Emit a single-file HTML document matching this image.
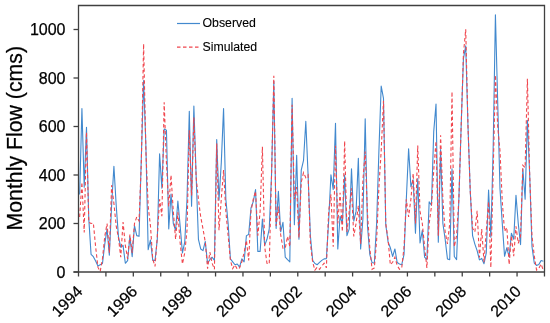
<!DOCTYPE html>
<html><head><meta charset="utf-8"><style>
html,body{margin:0;padding:0;background:#fff;}
body{width:550px;height:323px;overflow:hidden;}
svg{display:block;}
text{font-family:"Liberation Sans",Arial,sans-serif;fill:#000;stroke:#000;stroke-width:0.25px;}
</style></head><body>
<svg width="550" height="323" viewBox="0 0 550 323">
<rect x="0" y="0" width="550" height="323" fill="#fff"/>
<polyline fill="none" stroke="#4289ce" stroke-width="1.1" stroke-linejoin="round" points="79.64,194.40 81.92,108.56 84.21,187.12 86.49,127.23 88.78,218.65 91.06,254.30 93.35,256.72 95.63,261.09 97.92,265.94 100.20,264.73 102.48,263.51 104.77,244.11 107.05,228.84 109.34,255.27 111.62,205.07 113.91,166.27 116.19,205.31 118.48,236.84 120.76,247.26 123.05,245.32 125.33,263.27 127.61,260.60 129.90,236.59 132.18,256.72 134.47,225.68 136.75,235.62 139.04,236.35 141.32,158.03 143.61,80.43 145.89,145.90 148.18,249.69 150.46,239.99 152.74,260.36 155.03,260.36 157.31,239.26 159.60,153.90 161.88,188.09 164.17,128.93 166.45,130.14 168.74,228.84 171.02,194.16 173.30,223.50 175.59,230.29 177.87,200.95 180.16,225.93 182.44,252.84 184.73,242.17 187.01,199.25 189.30,111.22 191.58,206.28 193.87,106.13 196.15,176.21 198.43,239.26 200.72,248.96 203.00,250.66 205.29,241.44 207.57,263.27 209.86,259.63 212.14,257.21 214.43,260.36 216.71,139.59 218.99,200.22 221.28,162.88 223.56,108.56 225.85,199.25 228.13,223.50 230.42,258.90 232.70,261.81 234.99,264.73 237.27,264.00 239.56,267.15 241.84,258.90 244.12,261.81 246.41,235.62 248.69,234.41 250.98,207.98 253.26,201.68 255.55,189.55 257.83,251.39 260.12,251.39 262.40,219.13 264.68,245.32 266.97,239.26 269.25,228.84 271.54,175.00 273.82,81.40 276.11,228.35 278.39,191.25 280.68,231.75 282.96,222.29 285.25,257.21 287.53,259.63 289.81,261.81 292.10,98.37 294.38,224.71 296.67,155.36 298.95,239.26 301.24,170.15 303.52,160.45 305.81,121.41 308.09,175.00 310.37,235.62 312.66,260.36 314.94,263.51 317.23,264.73 319.51,262.30 321.80,260.36 324.08,258.90 326.37,258.66 328.65,221.07 330.94,174.76 333.22,189.55 335.50,123.35 337.79,248.96 340.07,216.22 342.36,223.50 344.64,175.00 346.93,235.62 349.21,228.84 351.50,168.69 353.78,221.07 356.06,211.38 358.35,158.27 360.63,248.96 362.92,218.65 365.20,118.74 367.49,225.93 369.77,254.30 372.06,262.54 374.34,263.27 376.62,223.50 378.91,150.75 381.19,86.00 383.48,98.37 385.76,224.71 388.05,241.69 390.33,247.75 392.62,256.48 394.90,248.96 397.19,262.54 399.47,264.00 401.75,264.73 404.04,254.30 406.32,199.25 408.61,148.81 410.89,186.64 413.18,179.85 415.46,233.20 417.75,178.64 420.03,242.90 422.31,230.29 424.60,257.21 426.88,259.63 429.17,201.68 431.45,205.31 433.74,131.35 436.02,103.95 438.31,242.17 440.59,149.54 442.88,223.50 445.16,239.26 447.44,258.90 449.73,259.63 452.01,168.69 454.30,256.48 456.58,259.63 458.87,199.25 461.15,126.50 463.44,58.60 465.72,45.75 468.00,126.50 470.29,191.98 472.57,235.62 474.86,244.11 477.14,250.66 479.43,259.88 481.71,258.42 484.00,263.75 486.28,252.84 488.57,190.03 490.85,237.32 493.13,150.75 495.42,14.71 497.70,102.25 499.99,188.82 502.27,223.50 504.56,256.24 506.84,247.75 509.13,256.96 511.41,233.20 513.70,239.26 515.98,195.37 518.26,223.50 520.55,244.60 522.83,168.69 525.12,199.25 527.40,120.19 529.69,175.00 531.97,246.54 534.26,263.03 536.54,265.45 538.82,264.48 541.11,260.60 543.39,261.33"/>
<polyline fill="none" stroke="#f0464e" stroke-width="1.1" stroke-dasharray="3.5,2.5" points="79.64,216.95 81.92,182.28 84.21,232.47 86.49,132.08 88.78,222.29 91.06,223.50 93.35,223.01 95.63,246.78 97.92,267.15 100.20,271.51 102.48,258.66 104.77,236.35 107.05,223.50 109.34,252.84 111.62,185.19 113.91,203.37 116.19,225.93 118.48,238.05 120.76,257.21 123.05,222.05 125.33,245.32 127.61,258.90 129.90,234.66 132.18,252.84 134.47,223.50 136.75,216.95 139.04,221.07 141.32,162.88 143.61,43.81 145.89,150.75 148.18,206.53 150.46,225.93 152.74,258.90 155.03,266.42 157.31,236.35 159.60,199.25 161.88,216.22 164.17,102.25 166.45,162.88 168.74,206.53 171.02,175.00 173.30,211.38 175.59,239.26 177.87,212.34 180.16,242.90 182.44,264.00 184.73,252.84 187.01,230.29 189.30,130.38 191.58,195.61 193.87,117.53 196.15,177.43 198.43,199.25 200.72,216.95 203.00,228.84 205.29,242.17 207.57,268.61 209.86,252.12 212.14,263.27 214.43,269.33 216.71,143.47 218.99,230.29 221.28,199.25 223.56,170.15 225.85,211.38 228.13,235.62 230.42,260.36 232.70,268.61 234.99,264.73 237.27,269.33 239.56,267.88 241.84,261.81 244.12,252.60 246.41,240.47 248.69,260.36 250.98,211.38 253.26,199.25 255.55,191.25 257.83,235.62 260.12,211.38 262.40,146.87 264.68,246.78 266.97,263.27 269.25,264.00 271.54,175.00 273.82,75.82 276.11,225.93 278.39,206.53 280.68,234.66 282.96,248.24 285.25,248.24 287.53,236.35 289.81,246.78 292.10,104.68 294.38,199.25 296.67,187.12 298.95,237.81 301.24,182.28 303.52,172.57 305.81,177.67 308.09,175.00 310.37,242.90 312.66,262.30 314.94,270.06 317.23,267.15 319.51,269.33 321.80,265.94 324.08,263.27 326.37,267.88 328.65,211.38 330.94,194.40 333.22,246.78 335.50,145.66 337.79,223.50 340.07,192.70 342.36,231.75 344.64,141.05 346.93,231.99 349.21,211.38 351.50,188.34 353.78,236.35 356.06,223.50 358.35,205.56 360.63,243.87 362.92,179.85 365.20,151.48 367.49,213.80 369.77,247.75 372.06,269.33 374.34,267.88 376.62,240.47 378.91,187.12 381.19,150.75 383.48,100.80 385.76,223.50 388.05,239.26 390.33,264.73 392.62,262.30 394.90,257.21 397.19,265.45 399.47,269.33 401.75,267.88 404.04,246.78 406.32,199.25 408.61,216.95 410.89,199.25 413.18,173.30 415.46,223.50 417.75,145.42 420.03,211.38 422.31,223.50 424.60,246.78 426.88,267.88 429.17,223.50 431.45,206.53 433.74,170.15 436.02,141.05 438.31,235.62 440.59,135.23 442.88,199.25 445.16,231.75 447.44,243.87 449.73,223.50 452.01,91.58 454.30,246.78 456.58,235.62 458.87,199.25 461.15,126.50 463.44,53.75 465.72,29.26 468.00,126.50 470.29,191.98 472.57,228.35 474.86,231.99 477.14,210.89 479.43,257.45 481.71,229.08 484.00,262.30 486.28,230.78 488.57,201.68 490.85,267.63 493.13,175.00 495.42,75.09 497.70,126.50 499.99,150.75 502.27,201.68 504.56,231.50 506.84,227.38 509.13,264.48 511.41,235.62 513.70,256.24 515.98,226.41 518.26,243.38 520.55,235.62 522.83,165.30 525.12,167.73 527.40,78.73 529.69,175.00 531.97,235.62 534.26,255.75 536.54,270.06 538.82,268.36 541.11,264.00 543.39,270.55"/>
<g stroke="#404040" stroke-width="1.3" fill="none">
<polyline points="78.5,272 78.5,5.5 544.5,5.5 544.5,272"/>
<line x1="73.5" y1="272" x2="545" y2="272"/>
<line x1="73.5" y1="272.00" x2="78.5" y2="272.00"/><line x1="73.5" y1="223.50" x2="78.5" y2="223.50"/><line x1="73.5" y1="175.00" x2="78.5" y2="175.00"/><line x1="73.5" y1="126.50" x2="78.5" y2="126.50"/><line x1="73.5" y1="78.00" x2="78.5" y2="78.00"/><line x1="73.5" y1="29.50" x2="78.5" y2="29.50"/><line x1="78.50" y1="272" x2="78.50" y2="276.5"/><line x1="105.91" y1="272" x2="105.91" y2="276.5"/><line x1="133.32" y1="272" x2="133.32" y2="276.5"/><line x1="160.73" y1="272" x2="160.73" y2="276.5"/><line x1="188.14" y1="272" x2="188.14" y2="276.5"/><line x1="215.55" y1="272" x2="215.55" y2="276.5"/><line x1="242.96" y1="272" x2="242.96" y2="276.5"/><line x1="270.37" y1="272" x2="270.37" y2="276.5"/><line x1="297.78" y1="272" x2="297.78" y2="276.5"/><line x1="325.19" y1="272" x2="325.19" y2="276.5"/><line x1="352.60" y1="272" x2="352.60" y2="276.5"/><line x1="380.01" y1="272" x2="380.01" y2="276.5"/><line x1="407.42" y1="272" x2="407.42" y2="276.5"/><line x1="434.83" y1="272" x2="434.83" y2="276.5"/><line x1="462.24" y1="272" x2="462.24" y2="276.5"/><line x1="489.65" y1="272" x2="489.65" y2="276.5"/><line x1="517.06" y1="272" x2="517.06" y2="276.5"/><line x1="544.47" y1="272" x2="544.47" y2="276.5"/>
</g>
<g font-size="16" text-anchor="end"><text x="65.5" y="277.60">0</text><text x="65.5" y="229.10">200</text><text x="65.5" y="180.60">400</text><text x="65.5" y="132.10">600</text><text x="65.5" y="83.60">800</text><text x="65.5" y="35.10">1000</text></g>
<g font-size="16" text-anchor="end"><text transform="translate(83.50,292.5) rotate(-45)" x="0" y="0">1994</text><text transform="translate(138.32,292.5) rotate(-45)" x="0" y="0">1996</text><text transform="translate(193.14,292.5) rotate(-45)" x="0" y="0">1998</text><text transform="translate(247.96,292.5) rotate(-45)" x="0" y="0">2000</text><text transform="translate(302.78,292.5) rotate(-45)" x="0" y="0">2002</text><text transform="translate(357.60,292.5) rotate(-45)" x="0" y="0">2004</text><text transform="translate(412.42,292.5) rotate(-45)" x="0" y="0">2006</text><text transform="translate(467.24,292.5) rotate(-45)" x="0" y="0">2008</text><text transform="translate(522.06,292.5) rotate(-45)" x="0" y="0">2010</text></g>
<text transform="translate(22.4,138.2) rotate(-90)" font-size="21.3" text-anchor="middle">Monthly Flow (cms)</text>
<line x1="177" y1="23.5" x2="200" y2="23.5" stroke="#4289ce" stroke-width="1.2"/>
<line x1="177" y1="47.2" x2="200" y2="47.2" stroke="#f0464e" stroke-width="1.2" stroke-dasharray="3.5,2.5"/>
<text x="202.5" y="27.3" font-size="12.3" style="stroke-width:0.1px">Observed</text>
<text x="202.5" y="51" font-size="12.3" style="stroke-width:0.1px">Simulated</text>
</svg>
</body></html>
